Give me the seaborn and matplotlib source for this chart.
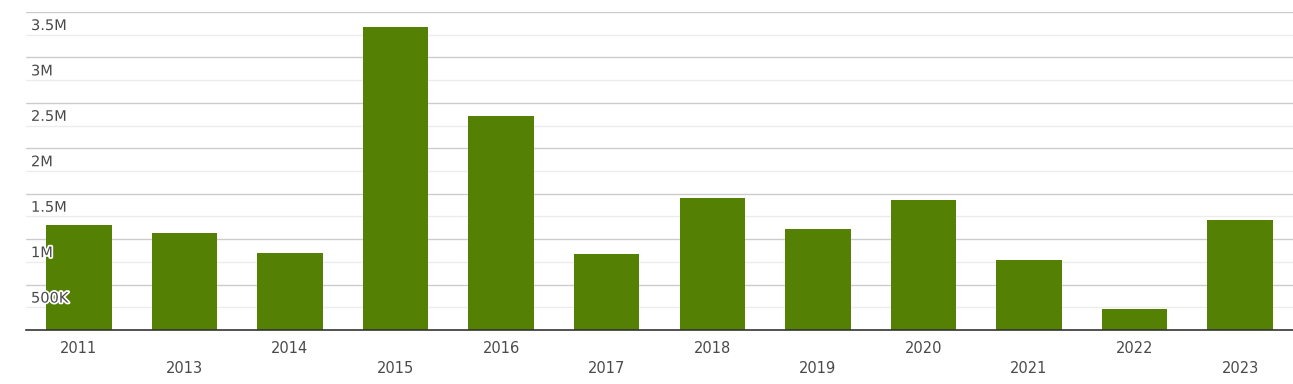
import matplotlib
matplotlib.use("Agg")
import matplotlib.pyplot as plt
import matplotlib.patheffects as pe
from matplotlib.transforms import ScaledTranslation, blended_transform_factory
import seaborn as sns
import pandas as pd

years = ["2011", "2013", "2014", "2015", "2016", "2017", "2018", "2019", "2020", "2021", "2022", "2023"]
values = [1156000, 1068000, 847000, 3335000, 2355000, 836000, 1453000, 1112000, 1431000, 770000, 231000, 1211000]
ytick_values = [500000, 1000000, 1500000, 2000000, 2500000, 3000000, 3500000]
ytick_labels = ["500K", "1M", "1.5M", "2M", "2.5M", "3M", "3.5M"]

sns.set_theme(style="white")
plt.rcParams["font.family"] = ["DejaVu Sans"]

df = pd.DataFrame({"year": years, "value": values})

fig = plt.figure(figsize=(12.93, 3.84), dpi=100)
ax = fig.add_axes([26 / 1293, 1 - 330 / 384, 1 - 26 / 1293, (330 - 12) / 384])

sns.barplot(data=df, x="year", y="value", color="#548003", saturation=1, width=0.62,
            linewidth=0, edgecolor="none", ax=ax)
for p in ax.patches:
    p.set_zorder(3)
    p.set_linewidth(0)

ax.set_ylim(0, 3500000)
ax.set_xlim(-0.5, len(years) - 0.5)
ax.set_xlabel("")
ax.set_ylabel("")

# gridlines
ax.set_yticks(ytick_values)
ax.set_yticks([v - 250000 for v in ytick_values], minor=True)
ax.grid(axis="y", which="major", color="#cccccc", linewidth=1)
ax.grid(axis="y", which="minor", color="#ececec", linewidth=1)
ax.grid(axis="x", visible=False)
for t in ax.yaxis.get_major_ticks() + ax.yaxis.get_minor_ticks():
    t.gridline.set_zorder(1)

for s in ["top", "right", "left"]:
    ax.spines[s].set_visible(False)
ax.spines["bottom"].set_color("#333333")
ax.spines["bottom"].set_linewidth(1.2)
ax.spines["bottom"].set_zorder(5)

# y labels inside plot, below their gridlines, drawn above bars
ax.tick_params(axis="y", which="both", length=0, labelleft=False)
trans = blended_transform_factory(ax.transAxes, ax.transData) + ScaledTranslation(5 / 100, -6 / 100, fig.dpi_scale_trans)
for v, txt in zip(ytick_values, ytick_labels):
    ax.text(0, v, txt, transform=trans, ha="left", va="top", fontsize=10.5, color="#4a4a4a",
            zorder=6, path_effects=[pe.withStroke(linewidth=2.5, foreground="white")])

# x tick labels alternating rows
ax.tick_params(axis="x", length=0, pad=8, labelsize=10.5, labelcolor="#4a4a4a")
for i, lab in enumerate(ax.get_xticklabels()):
    if i % 2 == 1:
        lab.set_transform(lab.get_transform() + ScaledTranslation(0, -20 / 100, fig.dpi_scale_trans))

fig.savefig("out.png", dpi=100, facecolor="white")
